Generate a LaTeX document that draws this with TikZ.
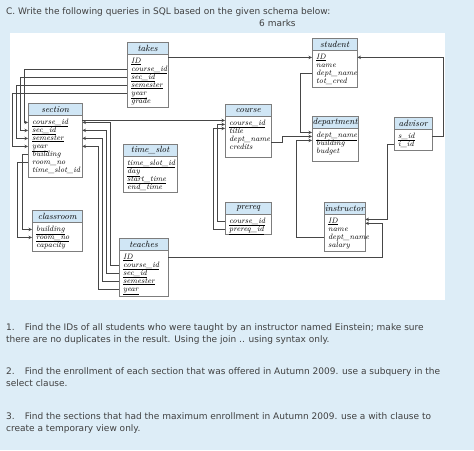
\documentclass[tikz,border=0pt]{standalone}
\usepackage{fontspec}
\newfontfamily\qfont{DejaVu Sans}
\usepackage{tikz}
\usetikzlibrary{positioning, calc, arrows}
\definecolor{bgblue}{RGB}{221,237,247}
\definecolor{titleblue}{RGB}{208,230,245}
\definecolor{boxline}{RGB}{125,125,125}
\definecolor{linkline}{RGB}{70,70,70}
\tikzstyle{relTitle}=[draw=boxline, fill=titleblue, rectangle, minimum height=12pt, inner sep=0pt, font=\fontsize{9}{9}\selectfont\itshape]
\tikzstyle{relBody}=[draw=boxline, fill=white, rectangle, inner sep=0pt]
\tikzstyle{field}=[anchor=west, inner sep=0pt, text height=4.6pt, text depth=1.4pt, font=\fontsize{7.8}{8}\selectfont\itshape]
\tikzstyle{foreignKey}=[-stealth, draw=linkline, line width=0.6pt]
\tikzstyle{question}=[anchor=base west, inner sep=0pt, text=black!75, font=\fontsize{9}{12}\selectfont\qfont]

% name, left, top, width, body height, title, fields
\newcommand{\relation}[7]{%
  \node[relTitle, minimum width=#4pt, anchor=north west] (#1) at (#2,#3) {#6};
  \node[relBody, minimum width=#4pt, minimum height=#5pt, anchor=north west] (#1-body) at (#1.south west) {};
  \foreach \f [count=\i] in {#7}
    \node[field] (#1-\i) at ($(#1-body.north west)+(4,{7+(\i-1)*8})$) {\f};
}

\begin{document}
\begin{tikzpicture}[x=1pt, y=-1pt]
        \fill[bgblue] (0,0) rectangle (474,450);
        \fill[white] (10,33) rectangle (445,300);

        \node[question] (head) at (6,14) {C. Write the following queries in SQL based on the given schema below:};
        \node[question] (marks) at (259,26) {6 marks};

        \relation{takes}{127}{42}{41}{53}{takes}{\underline{ID}, \underline{course\_id}, \underline{sec\_id}, \underline{semester}, \underline{year}, grade}
        \relation{student}{312}{38}{45}{37}{student}{\underline{ID}, name, dept\_name, tot\_cred}
        \relation{section}{28}{103}{54}{62}{section}{\underline{course\_id}, \underline{sec\_id}, \underline{semester}, \underline{year}, building, room\_no, time\_slot\_id}
        \relation{timeslot}{123}{144}{54}{36}{time\_slot}{\underline{time\_slot\_id}, \underline{day}, \underline{start\_time}, end\_time}
        \relation{course}{225}{104}{46}{41}{course}{\underline{course\_id}, title, dept\_name, credits}
        \relation{department}{312}{116}{46}{33}{department}{\underline{dept\_name}, building, budget}
        \relation{advisor}{394}{117}{38}{21}{advisor}{\underline{s\_id}, i\_id}
        \relation{classroom}{32}{210}{50}{29}{classroom}{\underline{building}, \underline{room\_no}, capacity}
        \relation{teaches}{119}{238}{49}{46}{teaches}{\underline{ID}, \underline{course\_id}, \underline{sec\_id}, \underline{semester}, \underline{year}}
        \relation{prereq}{225}{202}{46}{20}{prereq}{\underline{course\_id}, \underline{prereq\_id}}
        \relation{instructor}{324}{202}{41}{37}{instructor}{\underline{ID}, name, dept\_name, salary}

        % takes, advisor -> student
        \draw[foreignKey] (takes-body.east |- student-1) -- (student-body.west |- student-1);
        \draw[foreignKey] (advisor-body.east |- advisor-1) -- ++(11,0) |- (student-body.east |- student-1);

        % -> instructor
        \draw[foreignKey] (advisor-body.west |- advisor-2) -- ++(-7,0) |- ($(instructor-body.east |- instructor-1)+(0,-2)$);
        \draw[foreignKey] (teaches-body.east |- teaches-1) -| ($(instructor-body.east |- instructor-1)+(17,2)$) -- ($(instructor-body.east |- instructor-1)+(0,2)$);

        % -> department
        \draw[foreignKey] (student-body.west |- student-3) -- ++(-12,0) |- ($(department-body.west |- department-1)+(0,-3)$);
        \draw[foreignKey] ($(course-body.east |- course-3)+(0,3)$) -- ++(11,0) |- ($(department-body.west |- department-1)+(0,1)$);
        \draw[foreignKey] (instructor-body.west |- instructor-3) -- ++(-28,0) |- ($(department-body.west |- department-1)+(0,5)$);

        % -> course
        \draw[foreignKey] ($(section-body.east |- course-1)+(0,-3)$) -- ($(course-body.west |- course-1)+(0,-3)$);
        \draw[foreignKey] (prereq-body.west |- prereq-1) -- ++(-8,0) |- ($(course-body.west |- course-1)+(0,1)$);
        \draw[foreignKey] (prereq-body.west |- prereq-2) -- ++(-12,0) |- ($(course-body.west |- course-1)+(0,5)$);

        % takes, teaches -> section
        \foreach \i/\j/\d in {2/1/4, 3/2/8, 4/3/12, 5/4/16}
            \draw[foreignKey] (takes-body.west |- takes-\i) -| ($(section-body.west |- section-\j)+(-\d,0)$) -- (section-body.west |- section-\j);
        \foreach \i/\j/\d in {2/1/28, 3/2/24, 4/3/20, 5/4/16}
            \draw[foreignKey] (teaches-body.west |- teaches-\i) -| ($(section-body.east |- section-\j)+(\d,0)$) -- (section-body.east |- section-\j);

        % section -> classroom
        \draw[foreignKey] (section-body.west |- section-5) -- ++(-6,0) |- (classroom-body.west |- classroom-1);
        \draw[foreignKey] (section-body.west |- section-6) -- ++(-11,0) |- (classroom-body.west |- classroom-2);

        \node[question] (q1a) at (6,330) {1.\hspace{10pt}Find the IDs of all students who were taught by an instructor named Einstein; make sure};
        \node[question] (q1b) at (6,342) {there are no duplicates in the result. Using the join .. using syntax only.};
        \node[question] (q2a) at (6,374) {2.\hspace{10pt}Find the enrollment of each section that was offered in Autumn 2009. use a subquery in the};
        \node[question] (q2b) at (6,386) {select clause.};
        \node[question] (q3a) at (6,419) {3.\hspace{10pt}Find the sections that had the maximum enrollment in Autumn 2009. use a with clause to};
        \node[question] (q3b) at (6,431) {create a temporary view only.};
\end{tikzpicture}
\end{document}
